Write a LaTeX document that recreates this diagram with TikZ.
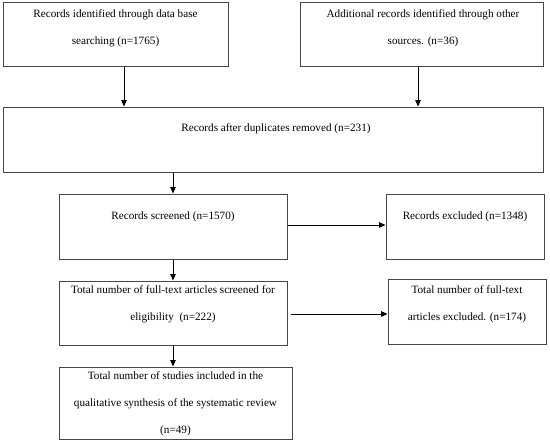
\documentclass[tikz,border=0pt]{standalone}
\usepackage{fontspec}
\setmainfont{Liberation Serif}
\usetikzlibrary{arrows.meta,calc}
\tikzset{
  box/.style={draw=black!72, line width=1pt, inner sep=0pt, fill=white},
  txt/.style={inner sep=0pt, align=center, font=\fontsize{11.2}{27}\selectfont},
  arr/.style={draw=black, line width=1pt, -{Triangle[length=6.5pt,width=5.5pt]}}
}
\begin{document}
\begin{tikzpicture}[x=1pt,y=-1pt]
\useasboundingbox (0,0) rectangle (550,442);
% boxes
\node[box, minimum width=225, minimum height=64] (b1) at (115.5,34) {};
\node[box, minimum width=243, minimum height=64] (b2) at (421.5,34) {};
\node[box, minimum width=540, minimum height=65] (b3) at (273,139.5) {};
\node[box, minimum width=228, minimum height=65] (b4) at (173,226.5) {};
\node[box, minimum width=158, minimum height=65] (b5) at (465,226.5) {};
\node[box, minimum width=228, minimum height=64] (b6) at (173,313) {};
\node[box, minimum width=158, minimum height=65] (b7) at (467,311.5) {};
\node[box, minimum width=233, minimum height=72] (b8) at (175.5,403) {};
% texts
\node[txt] (t1) at ($(b1.north)+(0,27)$) {Records identified through data base\\searching (n=1765)};
\node[txt] (t2) at ($(b2.north)+(1.5,27)$) {Additional records identified through other\\sources. (n=36)};
\node[txt] (t3) at ($(b3.north)+(3,22)$) {Records after duplicates removed (n=231)};
\node[txt] (t4) at ($(b4.north)+(0,23)$) {Records screened (n=1570)};
\node[txt] (t5) at ($(b5.north)+(0,23)$) {Records excluded (n=1348)};
\node[txt] (t6) at ($(b6.north)+(0,24)$) {Total number of full-text articles screened for\\eligibility~~(n=222)};
\node[txt] (t7) at ($(b7.north)+(0,26)$) {Total number of full-text\\articles excluded. (n=174)};
\node[txt] (t8) at ($(b8.north)+(0,37.5)$) {Total number of studies included in the\\qualitative synthesis of the systematic review\\(n=49)};
% connectors
\draw[arr] ([xshift=8.5]b1.south) -- ([xshift=8.5]b1.south |- b3.north);
\draw[arr] ([xshift=-3.5]b2.south) -- ([xshift=-3.5]b2.south |- b3.north);
\draw[arr] (b4.north |- b3.south) -- (b4.north);
\draw[arr] ([yshift=1.5]b4.east) -- ([yshift=1.5]b4.east -| b5.west);
\draw[arr] (b4.south) -- (b6.north);
\draw[arr] ([xshift=3,yshift=-1]b6.east) -- ([yshift=-1]b6.east -| b7.west);
\draw[arr] (b6.south) -- (b6.south |- b8.north);
\end{tikzpicture}
\end{document}
